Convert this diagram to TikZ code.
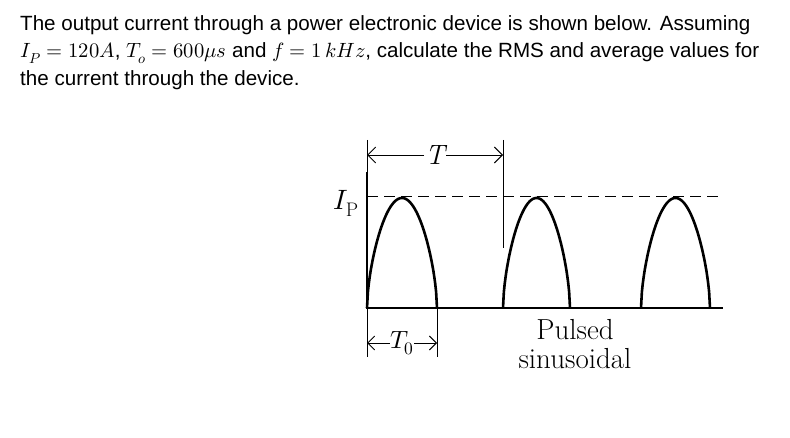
\documentclass[tikz,border=0pt]{standalone}
\usepackage{fontspec}
\setmainfont{Liberation Sans}
\usepackage{unicode-math}
\setmathfont{Latin Modern Math}
\newfontfamily\serif{Latin Modern Roman}
\usetikzlibrary{arrows.meta}
\begin{document}
\begin{tikzpicture}[x=1pt,y=-1pt,
  txt/.style={anchor=base west,inner sep=0pt,font=\fontsize{20.6}{24}\selectfont},
  wave/.style={line width=2.6pt},
  thin/.style={line width=0.9pt},
  lab/.style={font=\serif\fontsize{26}{28}\selectfont,inner sep=1pt}]
\useasboundingbox (0,0) rectangle (790,438);
\fill[white] (0,0) rectangle (790,438);
\node[txt] (l1) at (20,31) {The output current through a power electronic device is shown below. Assuming};
\node[txt] (l2) at (20,58) {$I_P=120A$, $T_o=600\mu s$ and $f=1\,kHz$, calculate the RMS and average values for};
\node[txt] (l3) at (20,86) {the current through the device.};
% axes
\coordinate (o) at (367,308);
\coordinate (ytop) at (367,172);
\coordinate (xend) at (723,308);
\draw[thin] (367,140) -- (ytop);
\draw[line width=1.4pt] (ytop) -- (o) -- (xend);
\draw[thin,dash pattern=on 11pt off 6pt] (367,196) -- (723,196);
% pulses
\foreach \a/\b in {367/437,503/570,641/710}{
  \draw[wave] plot[domain=0:180,samples=80] ({\a+(\b-\a)*\x/180},{308-110*pow(sin(\x),0.6)});
}
% T marker
\coordinate (tl) at (367,155);
\coordinate (tr) at (503,155);
\draw[thin] (503,140) -- (503,248);
\node[lab,fill=white,font=\serif\itshape\fontsize{28}{30}\selectfont] (T) at (435,155) {T};
\draw[thin,-{Straight Barb[length=8pt]}] (T.west) -- (tl);
\draw[thin,-{Straight Barb[length=8pt]}] (T.east) -- (tr);
% T0 marker
\draw[thin] (367,308) -- (367,357);
\draw[thin] (437,308) -- (437,357);
\coordinate (t0l) at (367,343);
\coordinate (t0r) at (437,343);
\node[lab,inner sep=0pt,font=\fontsize{25}{27}\selectfont] (T0) at (402,343) {$T_0$};
\draw[thin,-{Straight Barb[length=7pt]}] (T0.west) -- (t0l);
\draw[thin,-{Straight Barb[length=7pt]}] (T0.east) -- (t0r);
% labels
\node[lab,font=\fontsize{28}{30}\selectfont] (ip) at (346,203) {$I_{\text{\serif P}}$};
\node[lab,align=center,font=\serif\fontsize{29}{29}\selectfont] (ps) at (575,344) {Pulsed\\sinusoidal};
\end{tikzpicture}
\end{document}
